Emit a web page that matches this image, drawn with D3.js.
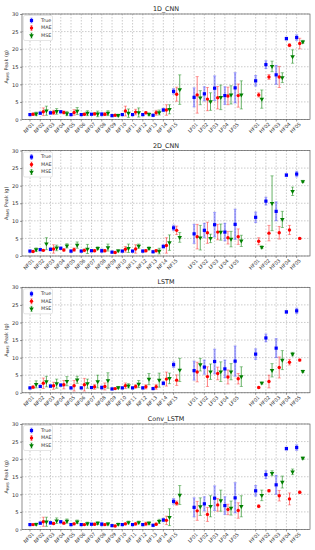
<!DOCTYPE html>
<html>
<head>
<meta charset="utf-8">
<script src="https://cdn.jsdelivr.net/npm/d3@7"></script>
<style>
body { margin: 0; background: #fff; }
text { font-family: "DejaVu Sans", sans-serif; fill: #222; }
</style>
</head>
<body>
<svg id="svg1" width="315" height="550"></svg>
<script>
var cats = ["NF01","NF02","NF03","NF04","NF05","NF06","NF07","NF08","NF09","NF10","NF11","NF12","NF13","NF14","NF15",
            "LF01","LF02","LF03","LF04","LF05","HF01","HF02","HF03","HF04","HF05"];
var pos = [1,2,3,4,5,6,7,8,9,10,11,12,13,14,15,17,18,19,20,21,23,24,25,26,27];
var yTicks = [0,5,10,15,20,25,30];
var models = ["1D_CNN","2D_CNN","LSTM","Conv_LSTM"];

var trueVal = [1.4,1.8,1.9,2.2,1.4,1.4,1.5,1.5,1.1,1.4,1.4,1.4,1.2,2.7,8.0, 6.3,7.3,8.9,6.8,9.0, 11.0,15.6,12.7,23.0,23.3];
var trueErr = [0.2,0.3,0.4,0.3,0.3,0.2,0.2,0.5,0.2,0.2,0.2,0.3,0.2,0.5,0.8, 2.7,2.0,3.5,2.5,4.3, 1.5,1.1,2.7,0.4,0.8];

// MAE per model
var maeVal = [
  [1.5,2.2,2.0,2.0,2.0,1.5,1.6,1.5,1.2,2.4,2.1,1.9,1.9,2.7,7.2, 7.0,5.8,6.2,6.7,6.8, 7.0,12.1,12.1,21.1,21.6],
  [1.3,1.6,2.0,1.7,1.8,1.6,1.5,1.5,1.0,1.9,2.0,1.5,1.5,3.0,7.3, 5.5,6.6,6.8,5.2,5.5, 4.2,6.5,6.6,7.4,5.0],
  [1.6,2.7,2.0,2.3,2.0,2.3,1.7,1.8,1.2,2.0,1.8,1.7,1.7,3.9,3.6, 5.9,4.6,5.5,4.5,4.0, 1.5,3.2,7.2,8.7,9.3],
  [1.4,2.2,1.7,1.8,1.6,1.4,1.5,1.4,1.0,1.6,1.6,1.6,1.5,2.6,7.5, 5.3,4.3,7.0,5.7,5.4, 6.6,11.0,9.6,8.7,10.6]
];
var maeErr = [
  [0.3,1.1,0.6,0.4,0.8,0.3,0.4,0.4,0.2,1.4,0.8,0.3,0.7,1.5,2.0, 5.2,3.3,3.2,2.5,3.3, 0.6,0.7,3.0,0.4,1.5],
  [0.2,0.2,1.2,0.3,0.5,0.4,0.3,0.3,0.2,0.8,1.2,0.3,0.3,2.2,1.2, 3.5,3.0,2.2,1.8,2.2, 1.0,2.2,1.8,1.3,0.2],
  [0.4,1.5,1.0,1.2,1.5,1.8,0.7,1.0,0.2,0.8,0.5,0.6,0.7,2.0,1.5, 2.8,2.8,1.8,2.0,1.5, 0.2,1.8,3.0,0.8,0.3],
  [0.2,1.3,0.3,0.3,0.3,0.2,0.3,0.3,0.2,0.3,0.4,0.5,0.3,1.2,0.6, 2.7,2.0,1.8,1.5,2.2, 0.4,0.3,1.5,1.7,0.3]
];

// MSE per model
var mseVal = [
  [1.6,2.5,2.3,1.7,2.4,1.8,1.6,1.8,1.2,1.8,2.0,1.5,2.0,2.9,8.5, 6.2,5.1,6.3,7.0,7.0, 5.8,15.1,11.9,17.9,22.1],
  [1.8,3.5,2.3,2.9,3.1,2.0,2.2,2.4,1.5,2.2,2.8,2.2,1.4,3.8,5.3, 5.2,5.0,6.8,4.8,4.3, 2.5,15.0,10.4,18.4,21.2],
  [2.4,3.2,2.6,3.3,3.7,2.6,3.2,3.5,1.5,2.0,2.5,3.9,3.6,4.1,6.5, 8.0,6.0,6.0,6.0,4.6, 2.8,6.4,9.3,11.0,6.1],
  [1.5,2.2,2.5,2.4,2.2,1.7,1.8,1.6,1.5,2.0,2.0,1.8,2.3,3.5,9.8, 6.5,6.6,8.2,6.1,6.6, 9.7,16.0,13.5,16.4,20.3]
];
var mseErr = [
  [0.5,1.3,0.8,0.6,1.0,0.7,0.8,0.7,0.3,1.2,1.3,0.4,0.7,1.3,4.2, 2.0,2.5,3.5,2.6,4.0, 2.6,1.5,1.4,1.9,0.4],
  [0.5,1.7,0.8,0.6,0.9,1.3,0.4,1.0,0.3,1.2,0.6,0.4,0.8,2.2,1.4, 3.5,1.2,2.3,2.2,1.6, 0.4,7.8,2.3,1.2,0.3],
  [1.0,1.5,1.3,1.3,1.0,1.3,1.8,2.2,0.3,0.6,1.0,1.6,2.0,1.5,3.3, 1.8,2.2,2.8,2.3,2.8, 0.3,1.9,2.7,0.5,0.3],
  [0.3,1.3,0.8,0.6,0.5,0.4,0.4,0.3,0.3,0.4,0.4,0.4,0.6,2.4,2.7, 2.5,3.0,3.0,2.0,3.0, 1.5,0.7,1.7,0.8,0.3]
];

var svg = d3.select("#svg1");
var gauche = 22, droite = 310, hautPanneau = 105.5;
var hauts = [14, 150.5, 287.3, 424];

var x = d3.scaleLinear().domain([0.22, 28.3]).range([gauche, droite]);

var series = [
  {nom: "True", off: 0,   col: "#0000ff", shape: "square", ew: 2.0, ea: 0.35},
  {nom: "MAE",  off: 0.3, col: "#ff0000", shape: "circle", ew: 1.0, ea: 0.5},
  {nom: "MSE",  off: 0.6, col: "#008000", shape: "tri",    ew: 1.0, ea: 0.6}
];

function marker(g, shape, col, cx, cy) {
  if (shape === "square") {
    g.append("rect").attr("x", cx - 1.6).attr("y", cy - 1.6).attr("width", 3.2).attr("height", 3.2).style("fill", col);
  } else if (shape === "circle") {
    g.append("circle").attr("cx", cx).attr("cy", cy).attr("r", 1.7).style("fill", col);
  } else {
    g.append("path").attr("d", d3.symbol().type(d3.symbolTriangle).size(9)()).attr("transform", "translate(" + cx + "," + cy + ") rotate(180)").style("fill", col);
  }
}

models.forEach(function(nom, m) {
  var haut = hauts[m];
  var y = d3.scaleLinear().domain([0, 30]).range([haut + hautPanneau, haut]);
  var g = svg.append("g");

  // grille
  g.selectAll(".hgrid").data(yTicks).enter().append("line")
    .attr("x1", gauche).attr("x2", droite)
    .attr("y1", function(d){return y(d);}).attr("y2", function(d){return y(d);})
    .style("stroke", "#aaa").style("stroke-width", 0.6).style("stroke-dasharray", "1.5,1.5");
  g.selectAll(".vgrid").data(pos).enter().append("line")
    .attr("y1", haut).attr("y2", haut + hautPanneau)
    .attr("x1", function(d){return x(d);}).attr("x2", function(d){return x(d);})
    .style("stroke", "#aaa").style("stroke-width", 0.6).style("stroke-dasharray", "1.5,1.5");

  // axe y
  var axeY = g.append("g").attr("transform", "translate(" + gauche + ",0)")
    .call(d3.axisLeft(y).tickValues(yTicks).tickSize(2).tickPadding(1.5));
  axeY.select(".domain").remove();
  axeY.selectAll("text").style("font-size", "5.2px").style("fill", "#333");
  axeY.selectAll("line").style("stroke", "#333").style("stroke-width", 0.5);

  // axe x
  g.selectAll(".xt").data(pos).enter().append("line")
    .attr("x1", function(d){return x(d);}).attr("x2", function(d){return x(d);})
    .attr("y1", haut + hautPanneau).attr("y2", haut + hautPanneau + 2)
    .style("stroke", "#333").style("stroke-width", 0.5);
  g.selectAll(".xl").data(cats).enter().append("text")
    .attr("transform", function(d, i){ return "translate(" + (x(pos[i]) - 1) + "," + (haut + hautPanneau + 8.5) + ") rotate(-45)"; })
    .attr("text-anchor", "middle").attr("dominant-baseline", "middle")
    .style("font-size", "4.9px").style("fill", "#333")
    .text(function(d){return d;});

  // series
  series.forEach(function(s, k) {
    var vals = k === 0 ? trueVal : (k === 1 ? maeVal[m] : mseVal[m]);
    var errs = k === 0 ? trueErr : (k === 1 ? maeErr[m] : mseErr[m]);
    var gs = g.append("g");
    vals.forEach(function(v, i) {
      var cx = x(pos[i] + s.off);
      var y1 = y(v - errs[i]), y2 = y(v + errs[i]);
      gs.append("line").attr("x1", cx).attr("x2", cx).attr("y1", y1).attr("y2", y2)
        .style("stroke", s.col).style("stroke-opacity", s.ea).style("stroke-width", s.ew);
      [y1, y2].forEach(function(yy) {
        gs.append("line").attr("x1", cx - 1.6).attr("x2", cx + 1.6).attr("y1", yy).attr("y2", yy)
          .style("stroke", s.col).style("stroke-opacity", s.ea + 0.1).style("stroke-width", 0.6);
      });
      marker(gs, s.shape, s.col, cx, y(v));
    });
  });

  // cadre
  g.append("rect").attr("x", gauche).attr("y", haut).attr("width", droite - gauche).attr("height", hautPanneau)
    .style("fill", "none").style("stroke", "#444").style("stroke-width", 0.6);

  // titre
  g.append("text").attr("x", (gauche + droite) / 2).attr("y", haut - 3)
    .attr("text-anchor", "middle").style("font-size", "6.4px").text(nom);

  // label y
  var lab = g.append("text").attr("transform", "translate(8," + (haut + hautPanneau / 2) + ") rotate(-90)")
    .attr("text-anchor", "middle").style("font-size", "5px").style("fill", "#333");
  lab.append("tspan").text("A");
  lab.append("tspan").attr("dy", 1).style("font-size", "3.6px").text("RMS");
  lab.append("tspan").attr("dy", -1).text(" Peak (g)");

  // legende
  var lg = g.append("g").attr("transform", "translate(" + (gauche + 1.5) + "," + (haut + 1.5) + ")");
  lg.append("rect").attr("width", 29).attr("height", 25).attr("rx", 1.5)
    .style("fill", "#fff").style("fill-opacity", 0.85).style("stroke", "#ccc").style("stroke-width", 0.5);
  series.forEach(function(s, k) {
    var ly = 5 + k * 7.5;
    lg.append("line").attr("x1", 8).attr("x2", 8).attr("y1", ly - 2.5).attr("y2", ly + 2.5)
      .style("stroke", s.col).style("stroke-opacity", s.ea + 0.2).style("stroke-width", 1);
    [ly - 2.5, ly + 2.5].forEach(function(yy) {
      lg.append("line").attr("x1", 6.8).attr("x2", 9.2).attr("y1", yy).attr("y2", yy)
        .style("stroke", s.col).style("stroke-opacity", s.ea + 0.2).style("stroke-width", 0.5);
    });
    marker(lg, s.shape, s.col, 8, ly);
    lg.append("text").attr("x", 17.5).attr("y", ly).attr("dominant-baseline", "middle")
      .style("font-size", "4.8px").style("fill", "#333").text(s.nom);
  });
});
</script>
</body>
</html>
